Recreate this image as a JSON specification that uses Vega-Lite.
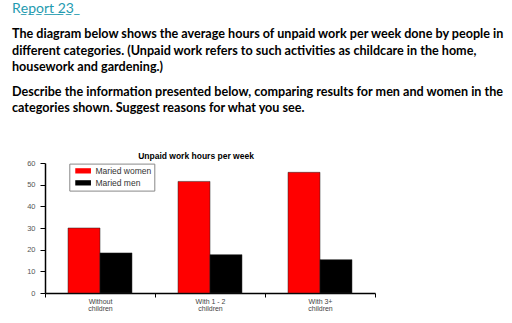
{
  "$schema": "https://vega.github.io/schema/vega-lite/v6.json",
  "padding": {"left": 12, "top": 2, "right": 4, "bottom": 0},
  "config": {
    "font": "Liberation Sans",
    "view": {"stroke": null},
    "concat": {"spacing": 0}
  },
  "title": {
    "text": "R̲e̲p̲o̲r̲t̲ ̲2̲3̲",
    "subtitle": [
      "The diagram below shows the average hours of unpaid work per week done by people in",
      "different categories. (Unpaid work refers to such activities as childcare in the home,",
      "housework and gardening.)"
    ],
    "anchor": "start",
    "frame": "bounds",
    "font": "Lato",
    "fontSize": 14,
    "fontWeight": "normal",
    "color": "#1f9bb0",
    "subtitleFont": "Lato",
    "subtitleFontSize": 12.6,
    "subtitleFontWeight": "bold",
    "subtitleColor": "#000000",
    "subtitleLineHeight": 16.3,
    "subtitlePadding": 12,
    "offset": 12
  },
  "vconcat": [
    {
      "title": {
        "text": [
          "Describe the information presented below, comparing results for men and women in the",
          "categories shown. Suggest reasons for what you see."
        ],
        "anchor": "start",
        "frame": "bounds",
        "font": "Lato",
        "fontSize": 12.6,
        "fontWeight": "bold",
        "color": "#000000",
        "lineHeight": 16.3,
        "offset": 37
      },
      "vconcat": [
        {
          "width": 330,
          "height": 130,
          "title": {
            "text": "Unpaid work hours per week",
            "font": "Liberation Sans",
            "fontSize": 8.5,
            "fontWeight": "bold",
            "color": "#000000",
            "anchor": "middle",
            "frame": "group",
            "dx": -14,
            "offset": -1
          },
          "data": {
            "values": [
              {"category": "Without children", "group": "Maried women", "hours": 30},
              {"category": "Without children", "group": "Maried men", "hours": 18.5},
              {"category": "With 1 - 2 children", "group": "Maried women", "hours": 51.5},
              {"category": "With 1 - 2 children", "group": "Maried men", "hours": 17.7},
              {"category": "With 3+ children", "group": "Maried women", "hours": 55.7},
              {"category": "With 3+ children", "group": "Maried men", "hours": 15.4}
            ]
          },
          "mark": {"type": "bar", "stroke": "#222222", "strokeWidth": 0.5},
          "encoding": {
            "x": {
              "field": "category",
              "type": "nominal",
              "sort": ["Without children", "With 1 - 2 children", "With 3+ children"],
              "scale": {"paddingInner": 0, "paddingOuter": 0},
              "axis": {
                "title": null,
                "labelAngle": 0,
                "tickBand": "extent",
                "tickSize": 4,
                "tickColor": "#000000",
                "domainColor": "#000000",
                "domainWidth": 1.5,
                "labelPadding": 0,
                "labelFontSize": 7,
                "labelLineHeight": 7.5,
                "labelColor": "#444444",
                "labelExpr": "datum.label ? [replace(datum.label, ' children', ''), 'children'] : ''"
              }
            },
            "xOffset": {
              "field": "group",
              "type": "nominal",
              "sort": ["Maried women", "Maried men"],
              "scale": {"paddingInner": 0, "paddingOuter": 0.72}
            },
            "y": {
              "field": "hours",
              "type": "quantitative",
              "scale": {"domain": [0, 60], "nice": false},
              "axis": {
                "title": null,
                "values": [0, 10, 20, 30, 40, 50, 60],
                "grid": false,
                "tickSize": 5,
                "tickColor": "#000000",
                "domainColor": "#000000",
                "domainWidth": 1.5,
                "labelPadding": 5,
                "labelFontSize": 7.5,
                "labelColor": "#555555",
                "minExtent": 33,
                "maxExtent": 33
              }
            },
            "color": {
              "field": "group",
              "type": "nominal",
              "sort": ["Maried women", "Maried men"],
              "scale": {"domain": ["Maried women", "Maried men"], "range": ["#ff0000", "#000000"]},
              "legend": {
                "title": null,
                "orient": "none",
                "legendX": 24.3,
                "legendY": 0.6,
                "strokeColor": "#888888",
                "padding": 3,
                "symbolType": "M-0.32,-0.66H3.6V0.66H-0.32Z",
                "symbolSize": 64,
                "symbolStrokeWidth": 0,
                "rowPadding": 3,
                "labelOffset": 14.7,
                "labelFontSize": 8.5,
                "labelColor": "#333333"
              }
            }
          }
        }
      ]
    }
  ]
}
